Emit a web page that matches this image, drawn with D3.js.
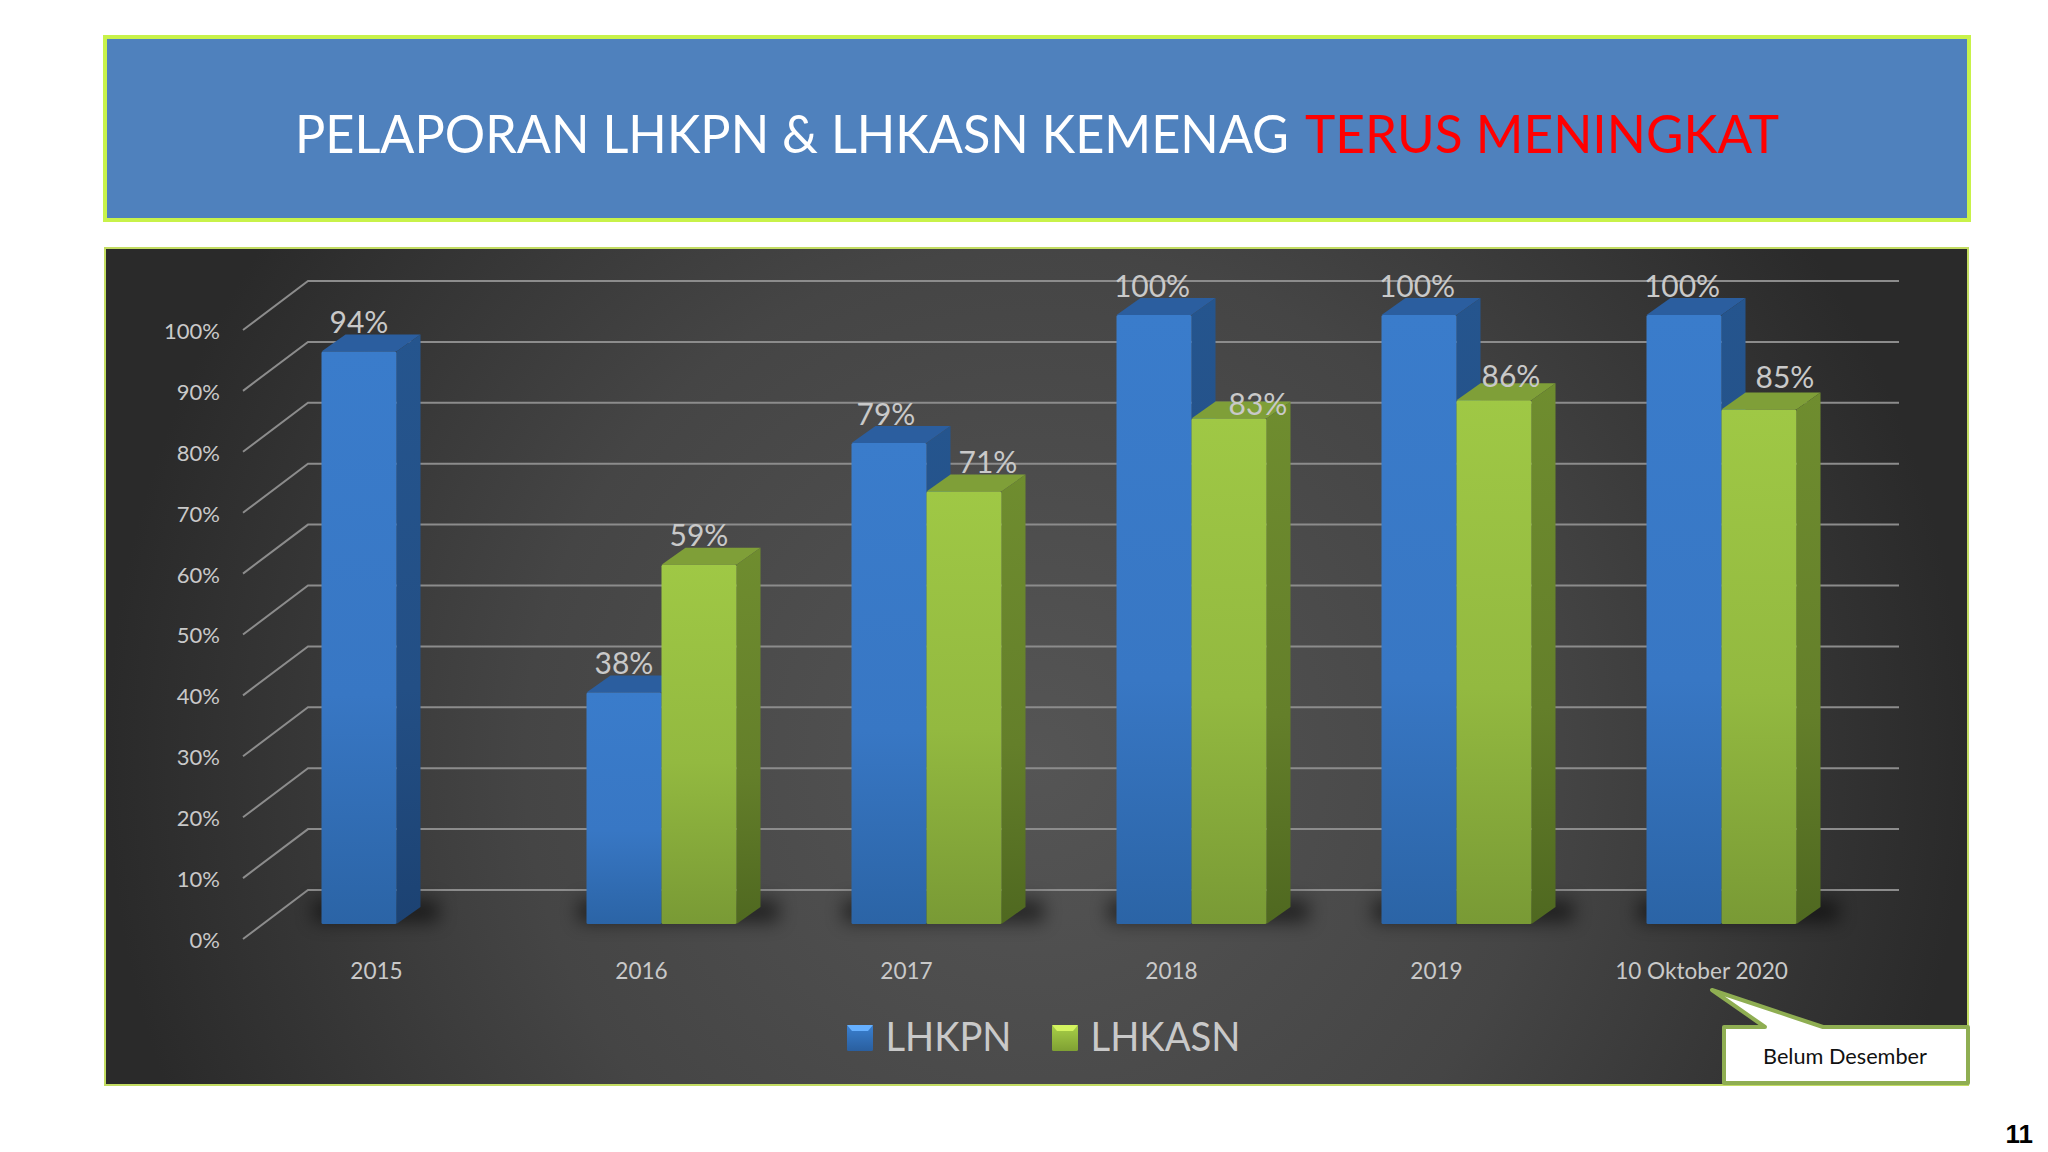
<!DOCTYPE html>
<html><head><meta charset="utf-8">
<script src="https://cdn.jsdelivr.net/npm/d3@7"></script>
<style>html,body{margin:0;padding:0;background:#fff}svg{display:block}text{font-family:Lato,sans-serif}</style>
</head><body><div id="c"></div>
<script>
const categories = ["2015","2016","2017","2018","2019","10 Oktober 2020"];
const lhkpn  = [94,38,79,100,100,100];
const lhkasn = [null,59,71,83,86,84.5];
const yTicks = [0,10,20,30,40,50,60,70,80,90,100];
const seriesNames = ["LHKPN","LHKASN"];
const titleWhite = "PELAPORAN LHKPN & LHKASN KEMENAG";
const titleRed = "TERUS MENINGKAT";
const calloutText = "Belum Desember";
const pageNumber = "11";

const W=2048,H=1152;
const svg=d3.select("#c").append("svg").attr("width",W).attr("height",H).attr("viewBox",`0 0 ${W} ${H}`);
const defs=svg.append("defs");
function vgrad(id,stops){const g=defs.append("linearGradient").attr("id",id).attr("x1",0).attr("y1",0).attr("x2",0).attr("y2",1);
  stops.forEach(s=>g.append("stop").attr("offset",s[0]).attr("stop-color",s[1]));}
const bg=defs.append("radialGradient").attr("id","bg").attr("gradientUnits","userSpaceOnUse").attr("cx",1036).attr("cy",760).attr("r",930);
bg.append("stop").attr("offset",0).attr("stop-color","#555555");
bg.append("stop").attr("offset",.55).attr("stop-color","#454545");
bg.append("stop").attr("offset",1).attr("stop-color","#2a2a2a");
vgrad("bf",[[0,"#3a7ccb"],[.6,"#3877c4"],[1,"#2b64a6"]]);
vgrad("bs",[[0,"#25558e"],[.6,"#234f85"],[1,"#1c4272"]]);
vgrad("gf",[[0,"#9fc845"],[.55,"#93b940"],[1,"#799a35"]]);
vgrad("gs",[[0,"#6f8d2f"],[.6,"#647f2a"],[1,"#4f6820"]]);
vgrad("lb",[[0,"#3a80d0"],[1,"#2a5f9f"]]);
vgrad("lg",[[0,"#a8d048"],[1,"#7fa033"]]);
defs.append("filter").attr("id","blur").attr("x","-30%").attr("y","-200%").attr("width","160%").attr("height","500%")
  .append("feGaussianBlur").attr("stdDeviation",9);

// Title box
svg.append("rect").attr("x",105).attr("y",37).attr("width",1864).attr("height",183)
  .attr("fill","#4f81bd").attr("stroke","#c8f24a").attr("stroke-width",4);
svg.append("text").attr("x",295).attr("y",153).attr("font-size",53).attr("fill","#fff")
  .attr("textLength",994).attr("lengthAdjust","spacingAndGlyphs").text(titleWhite);
svg.append("text").attr("x",1305).attr("y",153).attr("font-size",53).attr("fill","#ff0000")
  .attr("textLength",474).attr("lengthAdjust","spacingAndGlyphs").text(titleRed);

// Panel
svg.append("rect").attr("x",105).attr("y",248).attr("width",1863).attr("height",837)
  .attr("fill","url(#bg)").attr("stroke","#c3dc62").attr("stroke-width",2);

// Scales
const y=d3.scaleLinear().domain([0,100]).range([924,315]);
const x=d3.scaleBand().domain(categories).range([264,1854]);
const barW=75, dx=24, dy=17;
const txt="#c9c9c9";

// Grid
const gridG=svg.append("g").attr("fill","none").attr("stroke","#8c8c8c").attr("stroke-width",2);
yTicks.forEach(t=>{
  gridG.append("path").attr("d",d3.line()([[243,y(t)+15],[308,y(t)-34],[1899,y(t)-34]]));
});
// Y tick labels
svg.append("g").selectAll("text").data(yTicks).join("text")
  .attr("x",220).attr("y",d=>y(d)+16).attr("dy","0.36em").attr("text-anchor","end")
  .attr("font-size",22).attr("fill",txt).text(d=>d+"%");

// Shadows
categories.forEach((c,i)=>{
  const x0=x(c)+x.bandwidth()/2-barW;
  const n=lhkasn[i]==null?1:2;
  svg.append("rect").attr("x",x0-8).attr("y",y(0)-24).attr("width",barW*n+dx+26).attr("height",22)
    .attr("fill","#000").attr("opacity",.55).attr("filter","url(#blur)");
});

// Bars
function bar(g,x0,v,front,side,top){
  const yt=y(v),yb=y(0);
  g.append("path").attr("fill",top).attr("d",d3.line()([[x0,yt],[x0+dx,yt-dy],[x0+barW+dx,yt-dy],[x0+barW,yt]])+"Z");
  g.append("path").attr("fill",side).attr("d",d3.line()([[x0+barW,yt],[x0+barW+dx,yt-dy],[x0+barW+dx,yb-dy],[x0+barW,yb]])+"Z");
  g.append("rect").attr("x",x0).attr("y",yt).attr("width",barW).attr("height",yb-yt).attr("rx",1.5).attr("fill",front);
}
const barsG=svg.append("g");
categories.forEach((c,i)=>{
  const x0=x(c)+x.bandwidth()/2-barW;
  bar(barsG,x0,lhkpn[i],"url(#bf)","url(#bs)","#2b5e9f");
  if(lhkasn[i]!=null) bar(barsG,x0+barW,lhkasn[i],"url(#gf)","url(#gs)","#7f9f38");
});

// Data labels (nudges are layout, per label)
const nudgeB=[[0,-29],[0,-29],[-3,-29],[-2,-29],[-2,-29],[-2,-29]];
const nudgeG=[null,[0,-29],[24,-29],[29,-14],[17,-24],[26,-32]];
const lab=svg.append("g").attr("font-size",30).attr("fill",txt).attr("text-anchor","middle");
categories.forEach((c,i)=>{
  const x0=x(c)+x.bandwidth()/2-barW;
  lab.append("text").attr("x",x0+barW/2+nudgeB[i][0]).attr("y",y(lhkpn[i])+nudgeB[i][1]).attr("dy","0.36em").text(Math.round(lhkpn[i])+"%");
  if(lhkasn[i]!=null) lab.append("text").attr("x",x0+barW*1.5+nudgeG[i][0]).attr("y",y(lhkasn[i])+nudgeG[i][1]).attr("dy","0.36em").text(Math.round(lhkasn[i])+"%");
});

// Category labels
svg.append("g").selectAll("text").data(categories).join("text")
  .attr("x",d=>x(d)+x.bandwidth()/2-20).attr("y",971).attr("dy","0.36em").attr("text-anchor","middle")
  .attr("font-size",22.6).attr("fill",txt).text(d=>d);

// Legend
const legendX=[847,1052], legendColors=[["url(#lb)","#66b0ff"],["url(#lg)","#d4f460"]], legendTextW=[126,150];
seriesNames.forEach((n,i)=>{
  const lx=legendX[i],s=26,ly=1025,b=5;
  svg.append("rect").attr("x",lx).attr("y",ly).attr("width",s).attr("height",s).attr("rx",1.5).attr("fill",legendColors[i][0]);
  svg.append("path").attr("fill",legendColors[i][1]).attr("d",d3.line()([[lx,ly],[lx+s,ly],[lx+s-b,ly+b+1],[lx+b,ly+b+1]])+"Z");
  svg.append("text").attr("x",lx+38.5).attr("y",1051).attr("font-size",41).attr("fill",txt)
    .attr("textLength",legendTextW[i]).attr("lengthAdjust","spacingAndGlyphs").text(n);
});

// Callout
svg.append("path").attr("fill","#fff").attr("stroke","#8fae52").attr("stroke-width",4).attr("stroke-linejoin","round")
  .attr("d",d3.line()([[1724,1027],[1765,1027],[1712,990],[1823,1027],[1968,1027],[1968,1083],[1724,1083]])+"Z");
svg.append("text").attr("x",1845).attr("y",1056).attr("dy","0.36em").attr("text-anchor","middle")
  .attr("font-size",21.7).attr("fill","#111").text(calloutText);

// Page number
svg.append("text").attr("x",2033).attr("y",1143).attr("text-anchor","end")
  .style("font-family","'Liberation Sans',Arial,sans-serif").attr("font-weight",700).attr("font-size",26).attr("fill","#000").text(pageNumber);
</script></body></html>
